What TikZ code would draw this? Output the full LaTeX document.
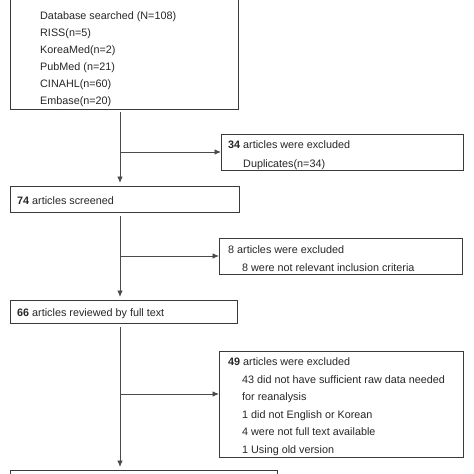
\documentclass[tikz,border=0pt]{standalone}
\usepackage{fontspec}
\setmainfont{Liberation Sans}
\usetikzlibrary{arrows.meta}
\definecolor{boxgray}{HTML}{3A3A3A}
\definecolor{linegray}{HTML}{4A4A4A}
\definecolor{textgray}{HTML}{262626}
\begin{document}
\begin{tikzpicture}[x=1pt,y=-1pt,
  box/.style={draw=boxgray, line width=1pt, rectangle, anchor=north west, inner sep=0pt},
  txt/.style={anchor=base west, inner sep=0pt, font=\fontsize{10.8}{12}\selectfont, text=textgray},
  arr/.style={draw=linegray, line width=0.9pt, -{Latex[length=6.5pt,width=5.5pt]}},
  ln/.style={draw=linegray, line width=0.9pt}]
\useasboundingbox (0,0) rectangle (474,474);
\clip (0,0) rectangle (474,474);
% boxes
\node[box, minimum width=228pt, minimum height=119pt] (src) at (10,-10) {};
\node[box, minimum width=229pt, minimum height=26pt] (scr) at (10,186) {};
\node[box, minimum width=242pt, minimum height=36pt] (ex1) at (221,134) {};
\node[box, minimum width=243pt, minimum height=36pt] (ex2) at (219,238) {};
\node[box, minimum width=227pt, minimum height=23pt] (full) at (10,300) {};
\node[box, minimum width=244pt, minimum height=106pt] (ex3) at (219,351) {};
\node[box, minimum width=267pt, minimum height=30pt] (incl) at (10,470) {};
% texts
\node[txt] (t1) at (40,19.5) {Database searched (N=108)};
\node[txt] (t2) at (40,36.5) {RISS(n=5)};
\node[txt] (t3) at (40,53.5) {KoreaMed(n=2)};
\node[txt] (t4) at (40,70.5) {PubMed (n=21)};
\node[txt] (t5) at (40,87.5) {CINAHL(n=60)};
\node[txt] (t6) at (40,104.5) {Embase(n=20)};
\node[txt] (t7) at (228,148.5) {\textbf{34} articles were excluded};
\node[txt] (t8) at (243,167.5) {Duplicates(n=34)};
\node[txt] (t9) at (17,204) {\textbf{74} articles screened};
\node[txt] (t10) at (228,253) {8 articles were excluded};
\node[txt] (t11) at (242,271) {8 were not relevant inclusion criteria};
\node[txt] (t12) at (17,316) {\textbf{66} articles reviewed by full text};
\node[txt] (t13) at (228,365.5) {\textbf{49} articles were excluded};
\node[txt] (t14) at (242,383) {43 did not have sufficient raw data needed};
\node[txt] (t15) at (242,400.5) {for reanalysis};
\node[txt] (t16) at (242,418) {1 did not English or Korean};
\node[txt] (t17) at (242,435.5) {4 were not full text available};
\node[txt] (t18) at (242,453) {1 Using old version};
% junctions
\coordinate (j1) at (120,152);
\coordinate (j2) at (120,256);
\coordinate (j3) at (120,394);
% connectors
\draw[arr, shorten >=3pt, shorten <=2pt] (src.south -| j1) -- (scr.north -| j1);
\draw[arr, shorten <=1pt] (j1) -- (ex1.west |- j1);
\draw[arr, shorten >=3pt, shorten <=3pt] (scr.south -| j2) -- (full.north -| j2);
\draw[arr, shorten <=1pt] (j2) -- (ex2.west |- j2);
\draw[arr, shorten >=3pt, shorten <=3pt] (full.south -| j3) -- (incl.north -| j3);
\draw[arr, shorten <=1pt] (j3) -- (ex3.west |- j3);
\end{tikzpicture}
\end{document}
